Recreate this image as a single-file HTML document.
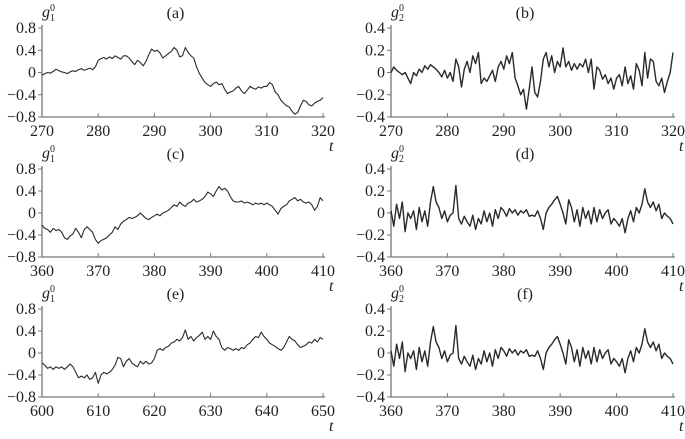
<!DOCTYPE html>
<html><head><meta charset="utf-8">
<style>
html,body{margin:0;padding:0;background:#fff;}
svg{display:block;}
svg text{font-family:"Liberation Serif","Times New Roman",serif;}
</style></head>
<body>
<svg id="fig" width="685" height="439" viewBox="0 0 685 439" font-family="Liberation Serif, serif"></svg>
<script>
const tA = [270,320], tC = [360,410], tE = [600,650];
const xTicksA = [270,280,290,300,310,320];
const xTicksC = [360,370,380,390,400,410];
const xTicksE = [600,610,620,630,640,650];
const yTicksG1 = [-0.8,-0.4,0,0.4,0.8];
const yTicksG2 = [-0.4,-0.2,0,0.2,0.4];
const yLabelsG1 = ["\u22120.8","\u22120.4","0","0.4","0.8"];
const yLabelsG2 = ["\u22120.4","\u22120.2","0","0.2","0.4"];
const seriesA = [-0.05,-0.02,0.0,-0.01,0.02,0.06,0.03,0.01,0.0,-0.02,
 0.01,0.03,0.02,0.05,0.07,0.04,0.06,0.08,0.05,0.1,
 0.22,0.25,0.27,0.24,0.28,0.25,0.3,0.27,0.24,0.3,
 0.3,0.26,0.2,0.14,0.22,0.18,0.12,0.2,0.32,0.42,
 0.38,0.4,0.35,0.26,0.3,0.34,0.38,0.45,0.4,0.28,
 0.3,0.45,0.36,0.3,0.26,0.1,-0.02,-0.1,-0.18,-0.22,
 -0.25,-0.2,-0.17,-0.22,-0.2,-0.3,-0.38,-0.35,-0.33,-0.28,
 -0.25,-0.33,-0.38,-0.32,-0.25,-0.28,-0.3,-0.26,-0.28,-0.25,
 -0.25,-0.18,-0.22,-0.35,-0.4,-0.5,-0.55,-0.6,-0.62,-0.7,
 -0.75,-0.72,-0.6,-0.5,-0.52,-0.58,-0.6,-0.55,-0.52,-0.5,
 -0.45];
const seriesB = [0.0,0.05,0.02,0.0,-0.02,0.0,-0.05,-0.1,0.0,-0.03,
 0.03,0.0,0.06,0.03,0.07,0.05,0.03,0.0,-0.04,0.02,
 -0.05,0.0,-0.08,0.12,0.05,-0.13,0.03,0.1,0.0,0.15,
 0.08,0.18,-0.1,-0.05,-0.08,-0.03,0.02,-0.08,0.05,0.1,
 0.03,0.15,0.08,0.18,-0.05,-0.12,-0.2,-0.15,-0.33,-0.15,
 0.05,-0.18,-0.22,-0.08,0.12,0.18,0.05,0.15,0.0,0.1,
 0.05,0.22,0.05,0.1,0.02,0.08,0.03,0.08,0.05,0.12,
 0.0,0.12,-0.15,0.05,0.02,-0.06,-0.02,-0.1,-0.05,-0.15,
 -0.05,-0.02,-0.12,0.05,-0.1,-0.03,-0.15,0.08,0.02,-0.12,
 0.18,-0.05,0.12,0.1,-0.08,-0.12,-0.05,-0.18,-0.08,0.0,
 0.18];
const seriesC = [-0.22,-0.28,-0.3,-0.35,-0.28,-0.32,-0.3,-0.35,-0.45,-0.48,
 -0.42,-0.38,-0.28,-0.35,-0.45,-0.3,-0.25,-0.3,-0.35,-0.48,
 -0.55,-0.5,-0.48,-0.45,-0.4,-0.35,-0.25,-0.3,-0.2,-0.15,
 -0.12,-0.08,-0.1,-0.08,-0.05,0.0,-0.05,-0.1,-0.12,-0.08,
 -0.05,-0.02,-0.05,0.0,0.02,0.05,0.1,0.15,0.12,0.2,
 0.15,0.12,0.18,0.2,0.25,0.2,0.22,0.25,0.3,0.38,
 0.35,0.3,0.4,0.48,0.42,0.45,0.4,0.3,0.22,0.2,
 0.2,0.22,0.18,0.2,0.18,0.15,0.18,0.16,0.18,0.15,
 0.18,0.15,0.12,0.05,-0.02,0.08,0.12,0.15,0.22,0.25,
 0.28,0.22,0.25,0.2,0.18,0.2,0.15,0.05,0.12,0.28,
 0.22];
const seriesD = [0.02,-0.12,0.08,-0.05,0.1,-0.17,0.0,-0.05,0.02,-0.15,
 0.05,-0.08,0.02,-0.12,0.1,0.24,0.1,0.05,-0.05,0.02,
 -0.08,-0.02,0.0,0.25,-0.05,-0.1,-0.03,-0.08,-0.12,-0.02,
 -0.15,-0.05,-0.1,0.02,-0.08,0.0,-0.12,0.03,-0.05,0.05,
 0.02,-0.03,0.04,0.0,0.03,-0.02,0.02,0.0,0.03,-0.03,
 -0.02,-0.03,0.02,-0.05,-0.15,0.0,0.05,0.08,0.12,0.15,
 0.08,0.0,-0.1,0.12,0.05,-0.08,0.03,-0.12,0.05,-0.05,
 0.02,-0.1,0.05,-0.08,0.03,-0.05,0.0,0.03,-0.1,-0.05,
 -0.08,-0.12,-0.05,-0.18,-0.05,0.02,-0.08,0.05,0.0,0.08,
 0.22,0.1,0.05,0.1,0.02,0.08,-0.05,0.0,-0.03,-0.05,
 -0.1];
const seriesE = [-0.18,-0.22,-0.28,-0.25,-0.3,-0.25,-0.28,-0.25,-0.3,-0.25,
 -0.2,-0.25,-0.35,-0.45,-0.42,-0.45,-0.4,-0.48,-0.45,-0.35,
 -0.55,-0.4,-0.35,-0.38,-0.35,-0.3,-0.22,-0.08,-0.1,-0.25,
 -0.15,-0.1,-0.18,-0.22,-0.25,-0.15,-0.2,-0.15,-0.2,-0.18,
 -0.1,0.05,0.08,0.05,0.1,0.12,0.18,0.2,0.25,0.22,
 0.28,0.42,0.25,0.3,0.22,0.28,0.32,0.38,0.25,0.3,
 0.25,0.4,0.3,0.25,0.1,0.05,0.1,0.08,0.05,0.08,
 0.05,0.1,0.08,0.15,0.18,0.25,0.3,0.28,0.38,0.3,
 0.25,0.18,0.15,0.12,0.08,0.05,0.1,0.2,0.3,0.25,
 0.22,0.15,0.1,0.12,0.15,0.2,0.18,0.25,0.2,0.28,
 0.25];
const seriesF = seriesD;

const NS="http://www.w3.org/2000/svg";
const svg=document.getElementById('fig');
function mk(tag,attrs,parent){const e=document.createElementNS(NS,tag);for(const k in attrs)e.setAttribute(k,attrs[k]);(parent||svg).appendChild(e);return e;}
const FF='Liberation Serif';

const panels=[
 {id:'a',x0:42,x1:323,yT:28,yB:117,dom:tA,xt:xTicksA,yt:yTicksG1,yl:yLabelsG1,sub:'1',data:seriesA,sw:1.1},
 {id:'b',x0:391,x1:673,yT:28,yB:117,dom:tA,xt:xTicksA,yt:yTicksG2,yl:yLabelsG2,sub:'2',data:seriesB,sw:1.4},
 {id:'c',x0:42,x1:323,yT:169,yB:257,dom:tC,xt:xTicksC,yt:yTicksG1,yl:yLabelsG1,sub:'1',data:seriesC,sw:1.1},
 {id:'d',x0:391,x1:673,yT:169,yB:257,dom:tC,xt:xTicksC,yt:yTicksG2,yl:yLabelsG2,sub:'2',data:seriesD,sw:1.4},
 {id:'e',x0:42,x1:323,yT:309,yB:397,dom:tE,xt:xTicksE,yt:yTicksG1,yl:yLabelsG1,sub:'1',data:seriesE,sw:1.1},
 {id:'f',x0:391,x1:673,yT:309,yB:397,dom:tC,xt:xTicksC,yt:yTicksG2,yl:yLabelsG2,sub:'2',data:seriesF,sw:1.4}
];
panels.forEach(p=>{
 const g=mk('g',{});
 
 
 const ymin=p.yt[0], ymax=p.yt[p.yt.length-1];
 const X=t=>p.x0+(t-p.dom[0])/(p.dom[1]-p.dom[0])*(p.x1-p.x0);
 const Y=v=>p.yB-(v-ymin)/(ymax-ymin)*(p.yB-p.yT);
 const ya=mk('line',{x1:p.x0,y1:p.yT-3,x2:p.x0,y2:p.yB,stroke:'#777','stroke-width':1.3},g);
 
 
 const xa=mk('line',{x1:p.x0,y1:p.yB,x2:p.x1+2,y2:p.yB,stroke:'#777','stroke-width':1.3},g);
 
 
 p.yt.forEach((v,i)=>{
  mk('line',{x1:p.x0-4,y1:Y(v),x2:p.x0,y2:Y(v),stroke:'#777','stroke-width':1},g);
  const t=mk('text',{x:p.x0-6,y:Y(v)+5,'text-anchor':'end','font-size':16,'font-family':FF,fill:'#222'},g);
  t.textContent=p.yl[i];
  
  
 });
 p.xt.forEach(v=>{
  mk('line',{x1:X(v),y1:p.yB,x2:X(v),y2:p.yB-4,stroke:'#777','stroke-width':1},g);
  const t=mk('text',{x:X(v),y:p.yB+19,'text-anchor':'middle','font-size':16,'font-family':FF,fill:'#222'},g);
  t.textContent=v;
  
  
 });
 const tl=mk('text',{x:p.x1+6,y:p.yB+34,'font-size':16,'font-style':'italic','font-family':FF,fill:'#222'},g);
 tl.textContent='t';
 
 
 const yl=mk('text',{x:p.x0+0,y:p.yT-11,'font-size':16,'font-style':'italic','font-family':FF,fill:'#222'},g);
 yl.textContent='g';
 
 
 const sb=mk('text',{x:p.x0+8,y:p.yT-7,'font-size':10,'font-family':FF,fill:'#222'},g);
 sb.textContent=p.sub;
 const sp=mk('text',{x:p.x0+8,y:p.yT-17,'font-size':10,'font-family':FF,fill:'#222'},g);
 sp.textContent='0';
 const lab=mk('text',{x:(p.x0+p.x1)/2-7,y:p.yT-10,'text-anchor':'middle','font-size':16,'font-family':FF,fill:'#222'},g);
 lab.textContent='('+p.id+')';
 
 
 const n=p.data.length;
 const pts=p.data.map((v,i)=>X(p.dom[0]+i*(p.dom[1]-p.dom[0])/(n-1)).toFixed(1)+','+Y(v).toFixed(1)).join(' ');
 const pl=mk('polyline',{points:pts,fill:'none',stroke:'#2a2a2a','stroke-width':p.sw,'stroke-linejoin':'round'},g);
 
 
});
</script>
</body></html>
